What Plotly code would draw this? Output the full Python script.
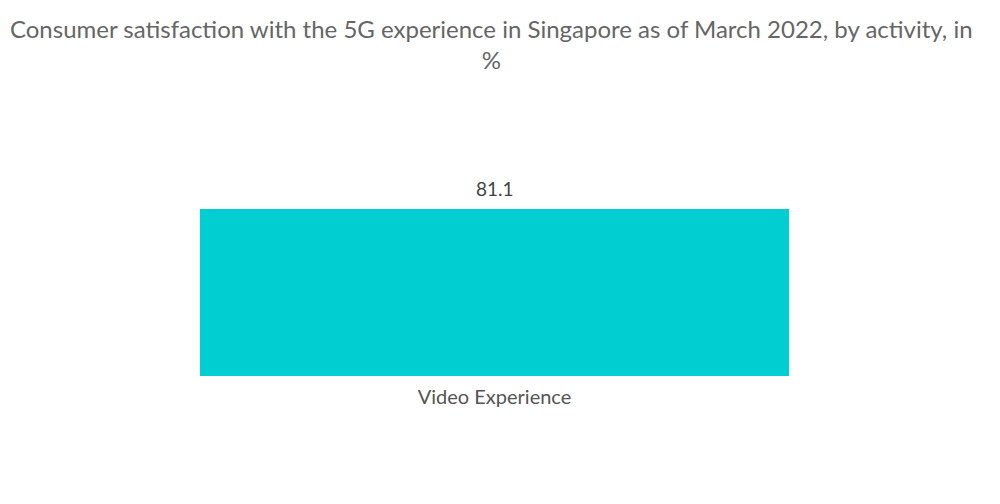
import plotly.graph_objects as go

# data
categorias = ["Video Experience"]
satisfacao = [81.1]
rotulos = ["81.1"]

titulo = ("Consumer satisfaction with the 5G experience in Singapore as of March 2022, by activity, in"
          "<br>%")

fig = go.Figure()
fig.add_trace(go.Bar(
    x=categorias,
    y=satisfacao,
    marker=dict(color="#00CED1", line=dict(width=0)),
    hoverinfo="x+y",
))

# rotulo de valor acima da barra
for cat, val, txt in zip(categorias, satisfacao, rotulos):
    fig.add_annotation(x=cat, y=val, text=txt, showarrow=False,
                       yanchor="bottom", yshift=7,
                       font=dict(size=19, color="#444444"))

fig.update_layout(
    width=1000,
    height=504,
    font=dict(family="Lato, Noto Sans, sans-serif", color="#555555"),
    title=dict(text=titulo, x=0.4945, xref="paper", xanchor="center",
               y=0.941, yanchor="top", font=dict(size=24, color="#666666")),
    margin=dict(l=192, r=219, t=162, b=136),
    bargap=0,
    plot_bgcolor="white",
    paper_bgcolor="white",
    showlegend=False,
)
fig.update_xaxes(showgrid=False, showline=False, ticks="", ticklabelstandoff=7,
                 tickfont=dict(size=20, color="#555555"))
fig.update_yaxes(range=[0, 100], visible=False)

fig.write_html("out.html")
